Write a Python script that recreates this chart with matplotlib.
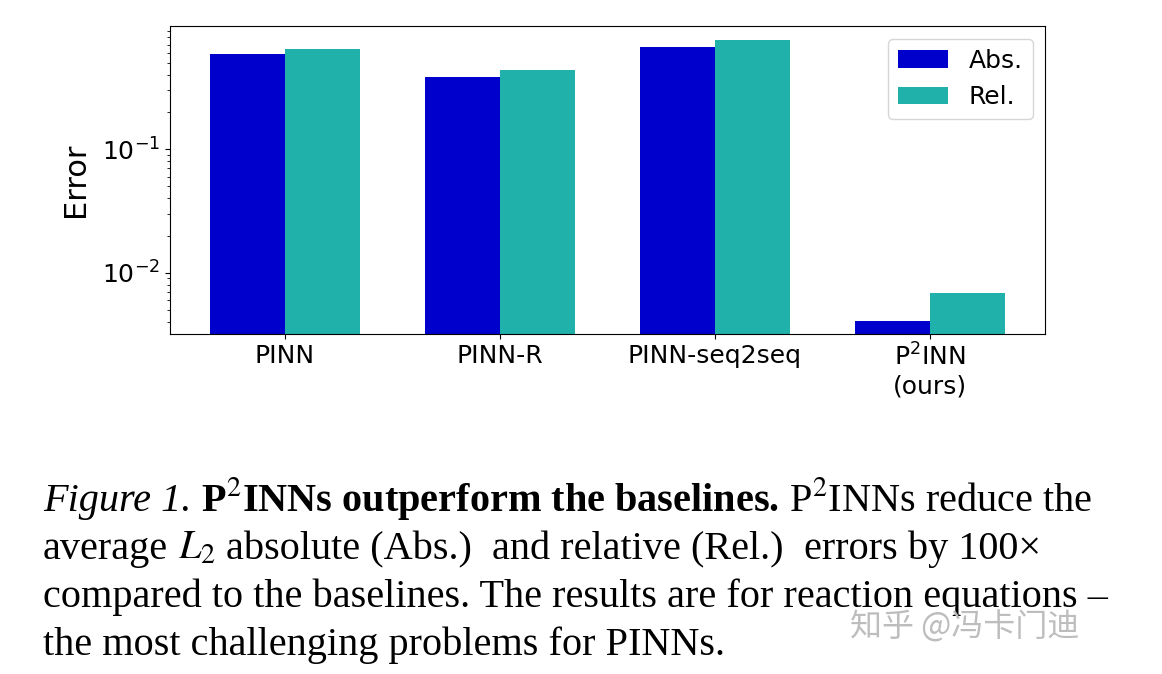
import numpy as np
import matplotlib
matplotlib.use("Agg")
import matplotlib.pyplot as plt

# data
methods = ["PINN", "PINN-R", "PINN-seq2seq", "P$^{\\mathdefault{2}}$INN\n(ours)"]
abs_err = [0.589, 0.383, 0.671, 0.00404]
rel_err = [0.648, 0.437, 0.766, 0.00684]

W, H = 1162, 674
fig = plt.figure(figsize=(W / 100, H / 100), dpi=100)
ax = fig.add_axes([170 / W, 1 - 334 / H, (1045 - 170) / W, (334 - 26) / H])

x = np.arange(len(methods))
w = 0.35
ax.bar(x, abs_err, w, color="mediumblue", label="Abs.")
ax.bar(x + w, rel_err, w, color="lightseagreen", label="Rel.")
ax.set_yscale("log")
ax.set_ylim(3.2e-3, 0.99)
ax.set_xticks(x + w / 2)
ax.set_xticklabels(methods)
ax.tick_params(labelsize=18)
ax.set_ylabel("Error", fontsize=22, labelpad=9)
ax.legend(fontsize=18, loc="upper right")

# caption with mixed styles
fig.canvas.draw()
r = fig.canvas.get_renderer()
fs = 29
sp = 10

def line(parts, base_px, left_px=43):
    xp = left_px
    for txt, st, gap in parts:
        kw = dict(family="Liberation Serif", math_fontfamily="stix")
        if st == "i":
            kw["style"] = "italic"
        if st == "b":
            kw["weight"] = "bold"
        t = fig.text(xp / W, 1 - base_px / H, txt, fontsize=fs, va="baseline", ha="left", **kw)
        xp = t.get_window_extent(renderer=r).x1 + gap

line([("Figure 1.", "i", sp), ("P$^2$INNs outperform the baselines.", "b", sp),
      ("P$^2$INNs reduce the", "r", sp)], 511)
line([("average", "r", sp), ("$L_2$", "r", sp), ("absolute (Abs.)", "r", 2 * sp),
      ("and relative (Rel.)", "r", 2 * sp), ("errors by 100×", "r", sp)], 559)
line([("compared to the baselines. The results are for reaction equations –", "r", sp)], 607)
line([("the most challenging problems for PINNs.", "r", sp)], 655)

fig.text(850 / W, 1 - 627 / H, "知乎 @冯卡门迪", fontsize=23, color="#bdbdbd",
         family=["Noto Sans CJK SC", "DejaVu Sans"], va="center", ha="left")

fig.savefig("out.png", dpi=100)
